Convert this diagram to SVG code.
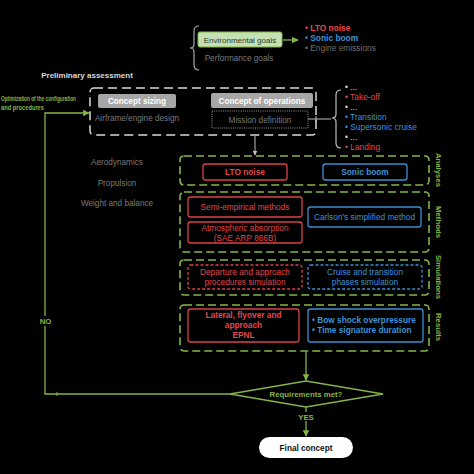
<svg xmlns="http://www.w3.org/2000/svg" width="474" height="474" viewBox="0 0 474 474">
<defs>
<style>
text{font-family:"Liberation Sans",Arial,sans-serif;}
.b{font-weight:bold;}
.gz{fill:none;stroke:#84b548;stroke-width:1.6;stroke-dasharray:8 4;}
.red{fill:none;stroke:#d8434a;stroke-width:1.3;}
.blue{fill:none;stroke:#3a8fd0;stroke-width:1.3;}
.rt{fill:#e0474c;font-size:8.3px;text-anchor:middle;}
.bt{fill:#3d93d6;font-size:8.3px;text-anchor:middle;}
.gl{fill:#84b548;font-size:7.8px;font-weight:bold;text-anchor:middle;}
.gray{fill:#7a7a7a;font-size:8.2px;text-anchor:middle;}
.li{font-size:8.4px;}
.conn{fill:none;stroke:#84b548;stroke-width:1.3;}
</style>
<marker id="ag" viewBox="0 0 10 10" refX="9" refY="5" markerWidth="5" markerHeight="5" orient="auto"><path d="M0,0 L10,5 L0,10 z" fill="#84b548"/></marker>
<marker id="aw" viewBox="0 0 10 10" refX="9" refY="5" markerWidth="5" markerHeight="5" orient="auto"><path d="M0,0 L10,5 L0,10 z" fill="#bfbfbf"/></marker>
</defs>
<rect width="474" height="474" fill="#000"/>

<g id="goals">
<path d="M199,26 Q194,26 194,31 L194,44 Q194,48 190,48 Q194,48 194,52 L194,65 Q194,70 199,70" fill="none" stroke="#a6a6a6" stroke-width="1.2"/>
<rect x="198" y="32" width="84" height="15" rx="2" fill="#c5e0b4" stroke="#84b548" stroke-width="1"/>
<text x="240" y="42.8" font-size="8" fill="#2b3a1f" text-anchor="middle">Environmental goals</text>
<text x="239" y="61" class="gray" fill="#6f6f6f">Performance goals</text>
<text x="305" y="31" class="b li" fill="#e0474c">• LTO noise</text>
<text x="305" y="41" class="b li" fill="#3d93d6">• Sonic boom</text>
<text x="305" y="51" class="li" fill="#6f6f6f">• Engine emissions</text>
</g>

<g id="preliminary">
<text x="87" y="78" class="b" font-size="8" fill="#d9d9d9" text-anchor="middle">Preliminary assessment</text>
<rect x="90" y="88" width="226" height="47" rx="4" fill="none" stroke="#d9d9d9" stroke-width="1.5" stroke-dasharray="9 5"/>
<rect x="98" y="94" width="78" height="14" rx="2" fill="#a6a6a6"/>
<text x="137" y="104" class="b" font-size="8.2" fill="#fff" text-anchor="middle">Concept sizing</text>
<text x="137" y="121" class="gray" fill="#8a8a8a">Airframe/engine design</text>
<rect x="211" y="93" width="102" height="15" rx="2" fill="#a6a6a6"/>
<text x="262" y="103.5" class="b" font-size="8.2" fill="#fff" text-anchor="middle">Concept of operations</text>
<rect x="212" y="111" width="96" height="17" fill="none" stroke="#a6a6a6" stroke-width="0.9" stroke-dasharray="1 1.2"/>
<text x="260" y="122.5" class="gray" fill="#8a8a8a">Mission definition</text>
</g>

<g id="disciplines">
<text x="117" y="165" class="gray" fill="#6f6f6f">Aerodynamics</text>
<text x="117" y="186" class="gray" fill="#6f6f6f">Propulsion</text>
<text x="117" y="206" class="gray" fill="#6f6f6f">Weight and balance</text>
</g>

<g id="mission-phases">
<path d="M341,90 Q336,90 336,95 L336,114 Q336,118 332,118 Q336,118 336,122 L336,143 Q336,148 341,148" fill="none" stroke="#bfbfbf" stroke-width="1.2"/>
<text x="345" y="90" class="li" fill="#d9d9d9">• ...</text>
<text x="345" y="100" class="li" fill="#e0474c">• Take-off</text>
<text x="345" y="110" class="li" fill="#d9d9d9">• ...</text>
<text x="345" y="120" class="li" fill="#3d93d6">• Transition</text>
<text x="345" y="130" class="li" fill="#3d93d6">• Supersonic cruise</text>
<text x="345" y="140" class="li" fill="#d9d9d9">• ...</text>
<text x="345" y="150" class="li" fill="#e0474c">• Landing</text>
</g>

<g id="loop-label">
<text x="1" y="101" class="b" font-size="6.3" fill="#84b548" textLength="75" lengthAdjust="spacingAndGlyphs">Optimization of the configuration</text>
<text x="1" y="110" class="b" font-size="6.3" fill="#84b548" textLength="43" lengthAdjust="spacingAndGlyphs">and procedures</text>
</g>

<g id="analyses">
<rect x="180" y="156" width="249" height="29" rx="4" class="gz"/>
<rect x="203" y="164" width="84" height="16" rx="2.5" class="red"/>
<text x="245" y="175" class="rt b">LTO noise</text>
<rect x="323" y="164" width="84" height="16" rx="2.5" class="blue"/>
<text x="365" y="175" class="bt b">Sonic boom</text>
<text transform="translate(436,170) rotate(90)" class="gl">Analyses</text>
</g>

<g id="methods">
<rect x="180" y="192" width="249" height="60" rx="4" class="gz"/>
<rect x="188" y="197" width="114" height="20" rx="2.5" class="red"/>
<text x="245" y="210" class="rt">Semi-empirical methods</text>
<rect x="188" y="222" width="114" height="21" rx="2.5" class="red"/>
<text x="245" y="230.5" class="rt">Atmospheric absorption</text>
<text x="245" y="240.5" class="rt">(SAE ARP 866B)</text>
<rect x="308" y="207" width="113" height="20" rx="2.5" class="blue"/>
<text x="364.5" y="220" class="bt">Carlson's simplified method</text>
<text transform="translate(436,222) rotate(90)" class="gl">Methods</text>
</g>

<g id="simulations">
<rect x="180" y="260" width="249" height="35" rx="4" class="gz"/>
<rect x="188" y="265" width="114" height="24" rx="2.5" class="red" stroke-dasharray="3 2"/>
<text x="245" y="275" class="rt">Departure and approach</text>
<text x="245" y="285" class="rt">procedures simulation</text>
<rect x="308" y="265" width="114" height="24" rx="2.5" class="blue" stroke-dasharray="3 2"/>
<text x="365" y="275" class="bt">Cruise and transition</text>
<text x="365" y="285" class="bt">phases simulation</text>
<text transform="translate(436,277) rotate(90)" class="gl">Simulations</text>
</g>

<g id="results">
<rect x="180" y="305" width="249" height="46" rx="4" class="gz"/>
<rect x="188" y="309" width="111" height="33" rx="2.5" class="red"/>
<text x="243.5" y="318" class="rt b">Lateral, flyover and</text>
<text x="243.5" y="328" class="rt b">approach</text>
<text x="243.5" y="338" class="rt b">EPNL</text>
<rect x="308" y="309" width="115" height="33" rx="2.5" class="blue"/>
<text x="312" y="323" class="b" font-size="8.3" fill="#3d93d6">• Bow shock overpressure</text>
<text x="312" y="333" class="b" font-size="8.3" fill="#3d93d6">• Time signature duration</text>
<text transform="translate(436,327) rotate(90)" class="gl">Results</text>
</g>

<g id="connectors">
<line x1="283" y1="40" x2="298" y2="40" class="conn" marker-end="url(#ag)"/>
<line x1="308" y1="119" x2="331" y2="119" stroke="#bfbfbf" stroke-width="1"/>
<line x1="316" y1="116" x2="316" y2="122" stroke="#bfbfbf" stroke-width="1"/>
<line x1="255" y1="136" x2="255" y2="155" stroke="#bfbfbf" stroke-width="1" marker-end="url(#aw)"/>
<line x1="306" y1="352" x2="306" y2="380" class="conn" marker-end="url(#ag)"/>
<line x1="306" y1="407" x2="306" y2="436" class="conn" marker-end="url(#ag)"/>
<polyline points="230,394 45,394 45,113 89,113" class="conn" marker-end="url(#ag)"/>
<line x1="57" y1="392" x2="57" y2="396" stroke="#84b548" stroke-width="1"/>
<rect x="37" y="316" width="17" height="10" fill="#000"/>
<text x="45.5" y="324" class="gl" font-size="7.5">NO</text>
<rect x="297" y="412" width="18" height="9" fill="#000"/>
<text x="306" y="419.5" class="gl" font-size="6.5">YES</text>
</g>

<g id="decision">
<polygon points="230,394 306,381 383,394 306,407" fill="#000" stroke="#84b548" stroke-width="1.4"/>
<text x="306" y="397" class="gl" font-size="8">Requirements met?</text>
</g>

<g id="final">
<rect x="259" y="437" width="94" height="21" rx="10.5" fill="#fff"/>
<text x="306" y="450.5" class="b" font-size="8.2" fill="#111" text-anchor="middle">Final concept</text>
</g>
</svg>
